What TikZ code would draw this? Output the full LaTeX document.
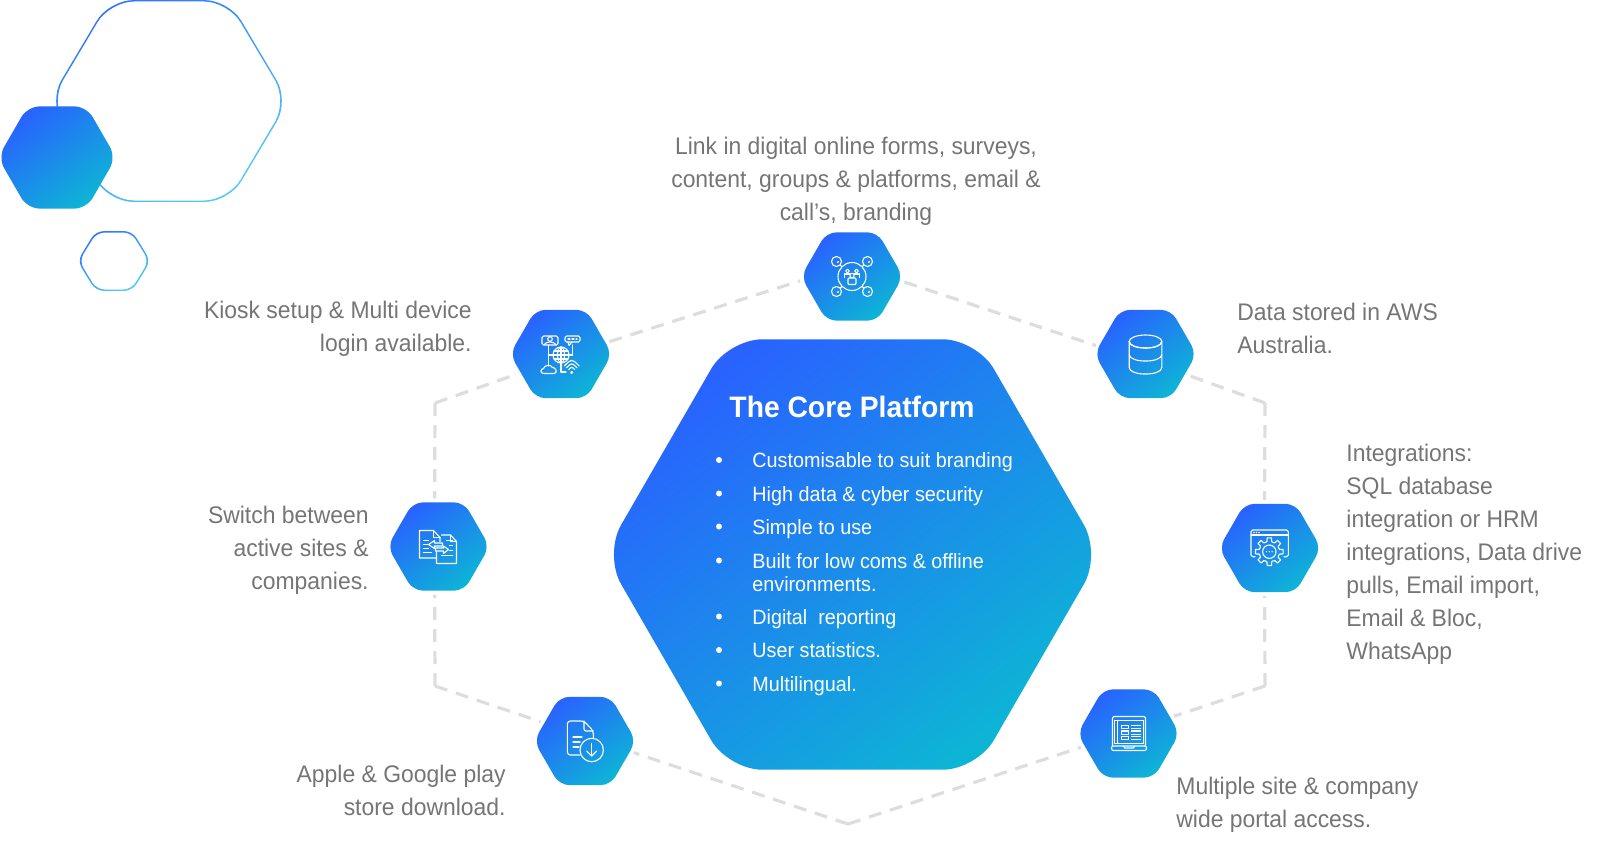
\documentclass[tikz,border=0pt]{standalone}
\usepackage{fontspec}
\setmainfont[FakeStretch=0.955]{Liberation Sans}
\usetikzlibrary{shapes.geometric}
\definecolor{gradA}{HTML}{2962FF}
\definecolor{gradB}{HTML}{0DB5D5}
\definecolor{ringA}{HTML}{2F74FF}
\definecolor{ringB}{HTML}{56CCF2}
\definecolor{labelgrey}{HTML}{757575}
\definecolor{dashgrey}{HTML}{DDDDDD}
\tikzset{
  hexbase/.style={regular polygon,regular polygon sides=6,inner sep=0pt,outer sep=0pt,
    shade,top color=gradA,bottom color=gradB,shading angle=38},
  smallhex/.style={hexbase,minimum size=51pt,rounded corners=5pt},
  corehex/.style={hexbase,minimum size=248.5pt,rounded corners=17pt},
  dashline/.style={draw=dashgrey,line width=1.6pt,dash pattern=on 6.5pt off 4.5pt,shorten <=2pt,shorten >=1.5pt},
  cornerline/.style={draw=dashgrey,line width=1.6pt,dash pattern=on 6.5pt off 4.5pt,shorten >=2pt},
  ringshape/.style={shade,top color=ringA,bottom color=ringB,shading angle=30,even odd rule},
  lab/.style={font=\fontsize{12}{16.5}\selectfont,text=labelgrey,inner sep=0pt},
  titletext/.style={font=\fontsize{14.8}{18}\bfseries\selectfont,text=white,inner sep=0pt},
  itemtext/.style={font=\fontsize{10.35}{11.5}\selectfont,text=white,inner sep=0pt,anchor=base west,align=left},
  dotmark/.style={circle,fill=white,inner sep=0pt,minimum size=3pt},
  glyph/.style={draw=white,line width=0.55pt,line cap=round,line join=round},
}
\newcommand{\hexring}[5]{%
  \path[ringshape,rounded corners=#3,shift={#1},xscale=#5]
    (0:#2)--(60:#2)--(120:#2)--(180:#2)--(240:#2)--(300:#2)--cycle
    (0:#2-#4)--(60:#2-#4)--(120:#2-#4)--(180:#2-#4)--(240:#2-#4)--(300:#2-#4)--cycle;}
\begin{document}
\begin{tikzpicture}[x=0.5pt,y=-0.5pt]
\useasboundingbox (0,0) rectangle (1600,847);
% decoration
\hexring{(169,101)}{116.5}{12pt}{1.6}{1.03}
\hexring{(114,261)}{34.5}{4pt}{1.6}{1.06}
\node[hexbase,minimum size=59pt,rounded corners=6pt] (decofill) at (57,157.5) {};
% core
\node[corehex] (core) at (852.5,554.5) {};
\node[titletext] (coretitle) at (852,407) {The Core Platform};
\foreach \yy/\nm/\txt in {467.5/a/Customisable to suit branding,501/b/High data \& cyber security,534/c/Simple to use,624/e/Digital\ \ reporting,657.5/f/User statistics.,691/g/Multilingual.}{
  \node[itemtext] (item\nm) at (752,\yy) {\txt};
  \node[dotmark] (dot\nm) at (719,\yy-7.5) {};
}
\node[itemtext] (itemd) at (752,591) {Built for low coms \& offline\\environments.};
\node[dotmark] (dotd) at (719,560.5) {};
% satellite hexes
\node[smallhex] (link) at (852,276.5) {};
\node[smallhex] (store) at (1145.5,354) {};
\node[smallhex] (integ) at (1270,548) {};
\node[smallhex] (portal) at (1128.5,733.5) {};
\node[smallhex] (apple) at (585,741) {};
\node[smallhex] (switch) at (438.5,546.5) {};
\node[smallhex] (kiosk) at (561,354) {};
% dashed ring
\coordinate (cR1) at (1265,403);
\coordinate (cR2) at (1265,686);
\coordinate (cB) at (848,824);
\coordinate (cL2) at (435,686);
\coordinate (cL1) at (435,403);
\draw[dashline] (link.-5) -- (store.171);
\draw[cornerline] (cR1) -- (store.-27);
\draw[cornerline] (cR1) -- (integ.97);
\draw[cornerline] (cR2) -- (integ.-97);
\draw[cornerline] (cR2) -- (portal.21);
\draw[cornerline] (cB) -- (portal.196);
\draw[cornerline] (cB) -- (apple.-13);
\draw[cornerline] (cL2) -- (apple.156);
\draw[cornerline] (cL2) -- (switch.-95);
\draw[cornerline] (cL1) -- (switch.95);
\draw[cornerline] (cL1) -- (kiosk.205);
\draw[dashline] (kiosk.14) -- (link.184);
% labels
\node[lab,align=center] (tlink) at (856,181) {Link in digital online forms, surveys,\\content, groups \& platforms, email \&\\call’s, branding};
\node[lab,align=left,anchor=west] (tstore) at (1237,328.5) {Data stored in AWS\\Australia.};
\node[lab,align=left,anchor=west] (tinteg) at (1346,554) {Integrations:\\SQL database\\integration or HRM\\integrations, Data drive\\pulls, Email import,\\Email \& Bloc,\\WhatsApp};
\node[lab,align=left,anchor=west] (tportal) at (1176,804.5) {Multiple site \& company\\wide portal access.};
\node[lab,align=right,anchor=east] (tapple) at (506,790) {Apple \& Google play\\store download.};
\node[lab,align=right,anchor=east] (tswitch) at (369,550) {Switch between\\active sites \&\\companies.};
\node[lab,align=right,anchor=east] (tkiosk) at (472,329) {Kiosk setup \& Multi device\\login available.};
% icon: community
\begin{scope}[shift={(link.center)},glyph]
  \draw (0,0) circle[radius=14];
  \foreach \sx/\sy in {-1/-1,1/-1,-1/1,1/1}{
    \draw (\sx*15.5,\sy*15) circle[radius=5];
    \draw (\sx*9.9,\sy*9.9) -- (\sx*12,\sy*11.5);
    \draw (\sx*15.5+1,\sy*15+1) -- (\sx*15.5+2,\sy*15);
  }
  \draw (-4.5,-5.5) circle[radius=1.8];
  \draw (4.5,-5.5) circle[radius=1.8];
  \draw (-7.5,1) -- (-7.5,-2.5) -- (-2,-2.5);
  \draw (7.5,1) -- (7.5,-2.5) -- (2,-2.5);
  \draw (0,-1) circle[radius=2.2];
  \draw[rounded corners=0.5pt] (-4,1.5) rectangle (4,8);
\end{scope}
% icon: database
\begin{scope}[shift={(store.center)},glyph]
  \draw (0,-12.5) circle[x radius=16.3,y radius=6.5];
  \draw (-16.3,-12.5) -- (-16.3,13.5) .. controls (-16.3,22.2) and (16.3,22.2) .. (16.3,13.5) -- (16.3,-12.5);
  \draw (-16.3,-12.5) .. controls (-16.3,-3.8) and (16.3,-3.8) .. (16.3,-12.5);
  \draw (-16.3,0.5) .. controls (-16.3,9.2) and (16.3,9.2) .. (16.3,0.5);
\end{scope}
% icon: kiosk / network
\begin{scope}[shift={(kiosk.center)},glyph]
  \draw[rounded corners=0.8pt] (-19,-18) rectangle (-3,-9);
  \draw (-11,-15) circle[radius=2.3];
  \draw (-17,-9.2) .. controls (-15,-13) and (-7,-13) .. (-5,-9.2);
  \draw[rounded corners=0.8pt] (4,-18) rectangle (19,-12);
  \draw (7,-12) -- (8,-8.5) -- (11,-12);
  \draw[dash pattern=on 1pt off 1pt] (7,-15) -- (16,-15);
  \draw (0,1) circle[radius=8];
  \draw (0,1) circle[x radius=3.5,y radius=8];
  \draw (0,-7) -- (0,9);
  \draw (-8,1) -- (8,1);
  \draw (-7,-3) -- (7,-3);
  \draw (-7,5) -- (7,5);
  \draw (-12.7,-9) -- (-12.7,12);
  \draw (11.7,-9) -- (11.7,1);
  \draw (-12.7,1) -- (-8,1);
  \draw (8,1) -- (11.7,1);
  \draw (0,9) -- (0,18) -- (5,18);
  \draw (-17,19.5) .. controls (-21,19.5) and (-21,15) .. (-17.5,14.5) .. controls (-17,11) and (-10,10) .. (-8.5,13.5) .. controls (-5,13) and (-3,19.5) .. (-7,19.5) -- cycle;
  \foreach \rr in {4,7,10}{
    \draw (10.7-\rr*0.75,18-\rr*0.6) .. controls (10.7,18-\rr*1.35) .. (10.7+\rr*0.75,18-\rr*0.6);
  }
  \draw (10.7,18.5) circle[radius=1];
\end{scope}
% icon: switch documents
\begin{scope}[shift={(switch.center)},glyph]
  \draw (1.5,-5) -- (1.5,-9) -- (-5,-16) -- (-19,-16) -- (-19,11.5) -- (-2,11.5);
  \draw (-5,-16) -- (-5,-9) -- (1.5,-9);
  \draw (3,-11.5) -- (12,-11.5) -- (18,-5) -- (18,17) -- (-2,17) -- (-2,5);
  \draw (12,-11.5) -- (12,-5) -- (18,-5);
  \draw (-15,-6) -- (-10,-6);
  \draw (-15,-2) -- (-11,-2);
  \draw (-15,2) -- (-10,2);
  \draw (-15,6) -- (-7,6);
  \draw (8,-6) -- (14,-6);
  \draw (11,-1) -- (14,-1);
  \draw (11,4) -- (14,4);
  \draw (3,9) -- (14,9);
  \draw (-10,-2) -- (-4,-6) -- (-4,-3.5) -- (4,-3.5) -- (4,-0.5) -- (-4,-0.5) -- (-4,2) -- cycle;
  \draw (10,3) -- (5,-0.5) -- (5,1.5) -- (-3,1.5) -- (-3,4.5) -- (5,4.5) -- (5,7) -- cycle;
\end{scope}
% icon: download document
\begin{scope}[shift={(apple.center)},glyph]
  \draw[rounded corners=1.5pt] (-5,14) -- (-17.7,14) -- (-17.7,-20) -- (-1,-20) -- (8.3,-10) -- (8.3,-3);
  \draw[rounded corners=1pt] (-1,-20) -- (-1,-10) -- (8.3,-10);
  \draw (6.7,9) circle[radius=11.7];
  \draw (-12,-4) -- (-3,-4);
  \draw (-12,1) -- (-5,1);
  \draw (-12,6) -- (-6,6);
  \draw (6.7,2.5) -- (6.7,15);
  \draw (1.7,10) -- (6.7,15) -- (11.7,10);
\end{scope}
% icon: portal laptop
\begin{scope}[shift={(portal.center)},glyph]
  \draw[rounded corners=1pt] (-16,12.5) -- (-16,-17) -- (17,-17) -- (17,12.5);
  \draw (-14,-13) -- (15,-13);
  \draw (-14,-13) -- (-14,10) -- (15,10) -- (15,-13);
  \draw (-11,-13) -- (-11,10);
  \draw[rounded corners=1pt] (-17,12.5) rectangle (18,17);
  \draw (-5,12.5) -- (-4,14.5) -- (5,14.5) -- (6,12.5);
  \foreach \yy in {-8,-2.5,3}{
    \draw (-7,\yy) rectangle (0,\yy+3.2);
    \draw (3,\yy) -- (12,\yy);
    \draw (3,\yy+3.2) -- (12,\yy+3.2);
  }
\end{scope}
% icon: integrations gear
\begin{scope}[shift={(integ.center)},glyph]
  \draw[rounded corners=0.8pt] (-15,8.7) -- (-19,8.7) -- (-19,-18) -- (18.3,-18) -- (18.3,8.7) -- (14,8.7);
  \draw (-19,-13) -- (18.3,-13);
  \foreach \xx in {-16,-13.5,-11}{\fill[white,draw=none] (\xx,-15.5) circle[radius=0.8];}
  \begin{scope}[shift={(-0.7,3.7)}]
    \foreach \aa in {0,45,...,315}{
      \draw (\aa-13:10.5) -- (\aa-9:14) -- (\aa+9:14) -- (\aa+13:10.5) -- (\aa+22.5:10) -- (\aa+32:10.5);
    }
    \draw (0,0) circle[radius=6.7];
    \foreach \xx in {-2.8,0,2.8}{\fill[white,draw=none] (\xx,0) circle[radius=0.7];}
  \end{scope}
\end{scope}
\end{tikzpicture}
\end{document}
